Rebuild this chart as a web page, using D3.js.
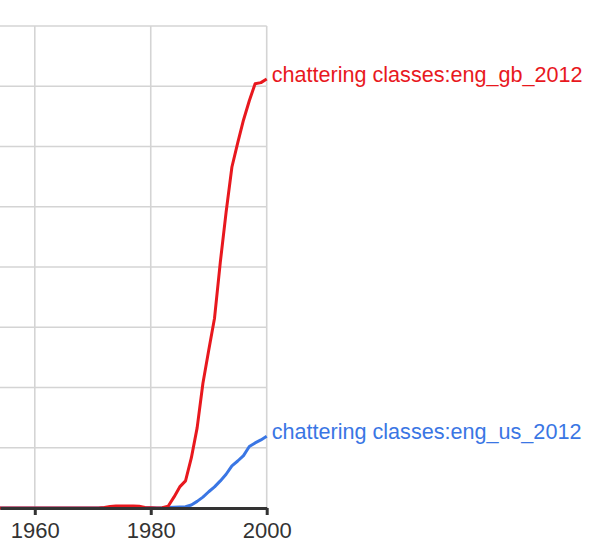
<!DOCTYPE html>
<html>
<head>
<meta charset="utf-8">
<script src="https://cdn.jsdelivr.net/npm/d3@7"></script>
<style>
  body { margin: 0; background: #fff; }
  svg { display: block; font-family: Arial, "Liberation Sans", Helvetica, sans-serif; }
</style>
</head>
<body>
<div id="chart"></div>
<script>
// years shown and the two ngram series (arbitrary units, 1 unit = one gridline step)
const years = d3.range(1954, 2001);
const gbValues = [
  0, 0, 0, 0, 0, 0, 0, 0, 0, 0,            // 1954-1963
  0, 0, 0, 0, 0, 0, 0, 0, 0.01, 0.025,     // 1964-1973
  0.035, 0.035, 0.035, 0.035, 0.03, 0.01, 0.005, 0, 0.005, 0.03, // 1974-1983
  0.18, 0.35, 0.45, 0.83, 1.33, 2.07, 2.62, 3.15, 4.08, 4.91,    // 1984-1993
  5.66, 6.06, 6.44, 6.76, 7.04, 7.06, 7.12                      // 1994-2000
];
const usValues = [
  0, 0, 0, 0, 0, 0, 0, 0, 0, 0,
  0, 0, 0, 0, 0, 0, 0, 0, 0.005, 0.008,
  0.008, 0.008, 0.008, 0.008, 0.008, 0.006, 0.003, 0.002, 0.004, 0.01,
  0.012, 0.015, 0.02, 0.05, 0.11, 0.18, 0.27, 0.35, 0.45, 0.56,
  0.70, 0.78, 0.87, 1.02, 1.08, 1.13, 1.19
];
const seriesNames = ["chattering classes:eng_us_2012", "chattering classes:eng_gb_2012"];
const seriesColors = ["#3a76e4", "#e8181e"];
const xTicks = [1960, 1980, 2000];
const yGrid = d3.range(0, 9);

const width = 600;
const height = 553;

const svg = d3.select("#chart")
  .append("svg")
  .attr("width", width)
  .attr("height", height);

const x = d3.scaleLinear()
  .domain([1954, 2000])
  .range([0, 266.7]);

const y = d3.scaleLinear()
  .domain([0, 8])
  .range([508, 26]);

// grid
svg.append("g")
  .selectAll("line")
  .data(yGrid.slice(1))
  .enter()
  .append("line")
  .attr("x1", x(1954))
  .attr("x2", x(2000))
  .attr("y1", d => y(d))
  .attr("y2", d => y(d))
  .attr("stroke", "#d4d4d4")
  .attr("stroke-width", 1.6);

svg.append("g")
  .selectAll("line")
  .data(xTicks)
  .enter()
  .append("line")
  .attr("x1", d => x(d))
  .attr("x2", d => x(d))
  .attr("y1", y(8))
  .attr("y2", y(0))
  .attr("stroke", "#d4d4d4")
  .attr("stroke-width", 1.6);

// lines
const series = [usValues, gbValues];
const line = d3.line()
  .x((d, i) => x(years[i]))
  .y(d => y(d));

series.forEach((vals, k) => {
  svg.append("path")
    .datum(vals)
    .attr("d", line)
    .attr("fill", "none")
    .attr("stroke", seriesColors[k])
    .attr("stroke-width", 3)
    .attr("stroke-linejoin", "round");

  svg.append("text")
    .attr("x", x(2000) + 5)
    .attr("y", y(vals[vals.length - 1]) + 3)
    .attr("fill", seriesColors[k])
    .attr("font-size", 21.6)
    .text(seriesNames[k]);
});

// x axis
const xAxis = svg.append("g")
  .attr("transform", `translate(0,${y(0)})`)
  .call(d3.axisBottom(x).tickValues(xTicks).tickFormat(d3.format("d")).tickSizeInner(7).tickSizeOuter(0).tickPadding(7));

xAxis.select(".domain")
  .attr("stroke", "#333")
  .attr("stroke-width", 3);
xAxis.selectAll(".tick line")
  .attr("stroke", "#333")
  .attr("stroke-width", 3);
xAxis.selectAll(".tick text")
  .attr("fill", "#333")
  .attr("font-size", 22)
  .attr("font-family", "Arial, 'Liberation Sans', sans-serif");
</script>
</body>
</html>
